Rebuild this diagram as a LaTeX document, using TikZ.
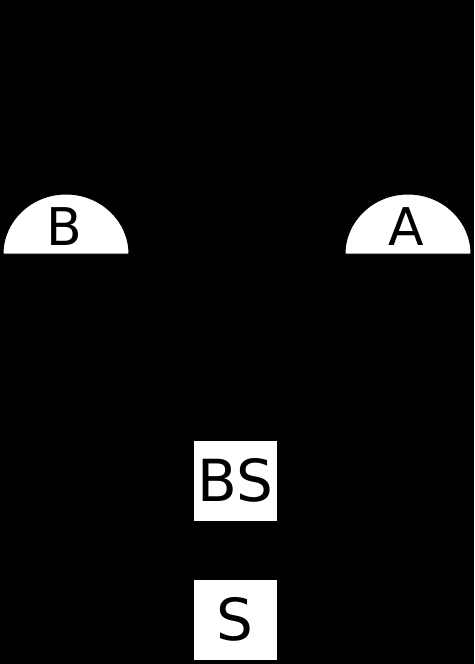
\documentclass[tikz,border=0pt]{standalone}
\usepackage{fontspec}
\setmainfont{DejaVu Sans}
\begin{document}
\begin{tikzpicture}[x=1pt,y=-1pt,
  dome/.style={fill=white,draw=black,line width=1pt},
  boxnode/.style={fill=white,draw=black,line width=1pt,minimum width=84pt,minimum height=81pt,inner sep=0pt,font=\fontsize{58}{58}\selectfont},
  domelabel/.style={font=\fontsize{52}{52}\selectfont,inner sep=0pt}]
\fill[black] (0,0) rectangle (474,664);
\useasboundingbox (0,0) rectangle (474,664);
% semicircles
\draw[dome] (3,254) arc[start angle=180,end angle=360,x radius=63,y radius=60] -- cycle;
\draw[dome] (345,254) arc[start angle=180,end angle=360,x radius=63,y radius=60] -- cycle;
\node[domelabel] (B) at (64,227) {B};
\node[domelabel] (A) at (406,227) {A};
\node[boxnode] (BS) at (235,480.5) {BS};
\node[boxnode] (S) at (235,619.5) {S};
\end{tikzpicture}
\end{document}
